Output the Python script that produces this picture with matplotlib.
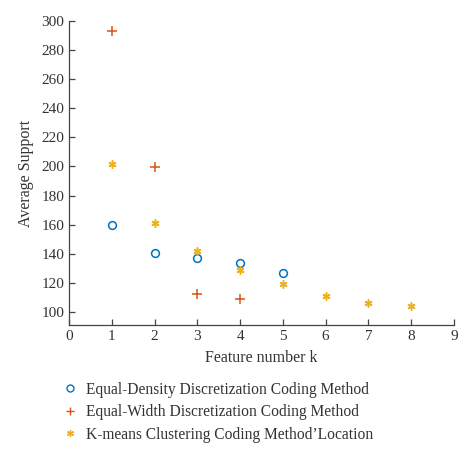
import matplotlib.pyplot as plt
from matplotlib.lines import Line2D

# data
k_density = [1, 2, 3, 4, 5]
support_density = [160, 140.7, 136.8, 133.6, 126.9]

k_width = [1, 2, 3, 4]
support_width = [293.1, 199.5, 112.2, 108.5]

k_kmeans = [1, 2, 3, 4, 5, 6, 7, 8]
support_kmeans = [201.6, 161.4, 141.9, 129.0, 118.9, 110.8, 106.2, 103.9]

labels = ['Equal-Density Discretization Coding Method',
          'Equal-Width Discretization Coding Method',
          'K-means Clustering Coding Method\u2019Location']

plt.rcParams['font.family'] = ['Liberation Serif', 'DejaVu Serif']
text_col = '#333333'

fig = plt.figure(figsize=(4.74, 4.59), dpi=100)
ax = fig.add_axes([0.1456, 0.291, 0.812, 0.663])

ax.plot(k_density, support_density, linestyle='none', marker='o', markersize=5.6,
        markerfacecolor='none', markeredgecolor='#0072BD', markeredgewidth=1.1)
ax.plot(k_width, support_width, linestyle='none', marker='+', markersize=6.8,
        color='#D95319', markeredgewidth=1.1)
ax.plot(k_kmeans, support_kmeans, linestyle='none', marker=(6, 2, 0), markersize=5.8,
        color='#EDB120', markeredgewidth=1.1)

ax.set_xlim(0, 9)
ax.set_ylim(90.6, 300)
ax.set_xticks(range(0, 10))
ax.set_yticks(range(100, 301, 20))
ax.spines['top'].set_visible(False)
ax.spines['right'].set_visible(False)
for s in ['left', 'bottom']:
    ax.spines[s].set_color('#444444')
    ax.spines[s].set_linewidth(0.9)
ax.tick_params(direction='in', length=4, width=0.9, colors='#444444',
               labelcolor=text_col, labelsize=11)

ax.set_xlabel('Feature number k', fontsize=11.5, color=text_col, labelpad=5)
ax.set_ylabel('Average Support', fontsize=11.5, color=text_col, labelpad=5)

handles = [
    Line2D([], [], linestyle='none', marker='o', markersize=5, markerfacecolor='none',
           markeredgecolor='#0072BD', markeredgewidth=1.0),
    Line2D([], [], linestyle='none', marker='+', markersize=6, color='#D95319',
           markeredgewidth=1.0),
    Line2D([], [], linestyle='none', marker=(6, 2, 0), markersize=5, color='#EDB120',
           markeredgewidth=1.0),
]
fig.legend(handles, labels, loc='upper left', bbox_to_anchor=(0.118, 0.182),
           frameon=False, fontsize=11.2, labelcolor=text_col, handlelength=1.0,
           handletextpad=0.55, labelspacing=0.42, borderaxespad=0)

fig.savefig('out.png', dpi=100)
